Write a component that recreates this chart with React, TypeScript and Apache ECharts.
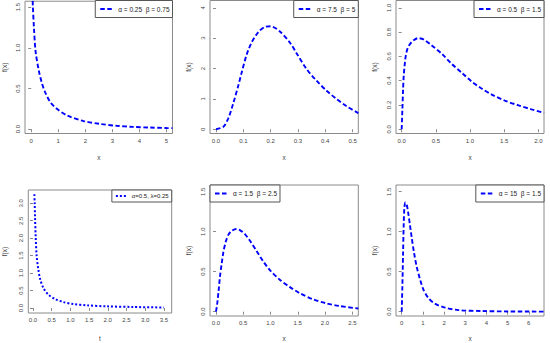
import { useEffect, useRef } from "react";
import * as echarts from "echarts";

// ---- data ----
const P1_X = [0.04, 0.06, 0.1, 0.16, 0.28, 0.4, 0.52, 0.71, 0.95, 1.32, 1.93, 2.54, 3.15, 3.76, 4.4, 5.0, 5.22];
const P1_Y = [1.75, 1.52, 1.25, 0.96, 0.72, 0.56, 0.45, 0.33, 0.25, 0.17, 0.1, 0.065, 0.042, 0.028, 0.02, 0.014, 0.013];

const P2_X = [0, 0.027, 0.045, 0.063, 0.082, 0.094, 0.112, 0.13, 0.155, 0.179, 0.2, 0.234, 0.271, 0.295, 0.332, 0.368, 0.405, 0.441, 0.478, 0.521];
const P2_Y = [0, 0.08, 0.36, 0.85, 1.45, 1.87, 2.45, 2.85, 3.2, 3.37, 3.39, 3.22, 2.85, 2.5, 1.98, 1.6, 1.27, 1.0, 0.76, 0.53];

const P3_X = [0, 0.01, 0.02, 0.03, 0.044, 0.059, 0.083, 0.12, 0.17, 0.24, 0.32, 0.44, 0.59, 0.73, 0.88, 1.02, 1.17, 1.32, 1.51, 1.71, 1.9, 2.083];
const P3_Y = [0, 0.156, 0.32, 0.44, 0.53, 0.6, 0.66, 0.7, 0.73, 0.75, 0.74, 0.69, 0.62, 0.54, 0.465, 0.395, 0.335, 0.285, 0.235, 0.197, 0.164, 0.135];

const P4_X = [0.036, 0.045, 0.054, 0.071, 0.098, 0.143, 0.19, 0.28, 0.41, 0.59, 0.81, 1.08, 1.44, 1.97, 2.69, 3.5];
const P4_Y = [3.26, 3.0, 2.6, 2.05, 1.48, 1.1, 0.83, 0.57, 0.38, 0.26, 0.17, 0.114, 0.076, 0.048, 0.029, 0.015];

const P5_X = [0, 0.024, 0.049, 0.073, 0.104, 0.134, 0.177, 0.226, 0.287, 0.378, 0.439, 0.53, 0.62, 0.744, 0.866, 0.988, 1.17, 1.35, 1.54, 1.78, 2.02, 2.27, 2.61];
const P5_Y = [0, 0.11, 0.27, 0.44, 0.6, 0.74, 0.87, 0.96, 1.01, 1.035, 1.02, 0.97, 0.89, 0.76, 0.63, 0.52, 0.4, 0.31, 0.23, 0.155, 0.105, 0.07, 0.04];

const P6_X = [0, 0.031, 0.063, 0.094, 0.126, 0.173, 0.236, 0.315, 0.39, 0.47, 0.58, 0.71, 0.87, 1.02, 1.26, 1.57, 2.05, 2.68, 3.78, 5.0, 6.72];
const P6_Y = [0, 0.32, 0.72, 1.09, 1.3, 1.365, 1.34, 1.22, 1.08, 0.93, 0.74, 0.56, 0.4, 0.28, 0.17, 0.1, 0.05, 0.02, 0.008, 0.003, 0.001];

const LEGEND_NAMES = [
  "α = 0.25  β = 0.75",
  "α = 7.5  β = 5",
  "α = 0.5  β = 1.5",
  "α=0.5, λ=0.25",
  "α = 1.5  β = 2.5",
  "α = 15  β = 1.5",
];
const X_TITLES = ["x", "x", "x", "t", "x", "x"];

const X_TICKS = [
  [0, 1, 2, 3, 4, 5],
  [0, 0.1, 0.2, 0.3, 0.4, 0.5],
  [0, 0.5, 1, 1.5, 2],
  [0, 0.5, 1, 1.5, 2, 2.5, 3, 3.5],
  [0, 0.5, 1, 1.5, 2, 2.5],
  [0, 1, 2, 3, 4, 5, 6],
];
const X_DEC = [0, 1, 1, 1, 1, 0];
const Y_TICKS = [
  [0, 0.5, 1, 1.5],
  [0, 1, 2, 3, 4],
  [0, 0.2, 0.4, 0.6, 0.8, 1.0],
  [0, 0.5, 1, 1.5, 2, 2.5, 3],
  [0, 0.5, 1, 1.5],
  [0, 0.5, 1, 1.5],
];
const Y_DEC = [1, 0, 1, 1, 1, 1];

const X_RANGE = [
  [-0.23, 5.22],
  [-0.022, 0.521],
  [-0.083, 2.083],
  [-0.126, 3.71],
  [-0.11, 2.61],
  [-0.27, 6.72],
];
const Y_RANGE = [
  [-0.053, 1.573],
  [-0.14, 4.24],
  [-0.035, 1.06],
  [-0.143, 3.38],
  [-0.054, 1.584],
  [-0.054, 1.584],
];

const XS = [P1_X, P2_X, P3_X, P4_X, P5_X, P6_X];
const YS = [P1_Y, P2_Y, P3_Y, P4_Y, P5_Y, P6_Y];

// layout (pixels)
const BOXES = [
  { left: 24.5, top: 0.5, width: 148, height: 133 },
  { left: 210, top: 0.5, width: 148.3, height: 133 },
  { left: 396, top: 0.5, width: 148, height: 133 },
  { left: 28.3, top: 190, width: 143.4, height: 123.3 },
  { left: 210, top: 185, width: 148.3, height: 131.7 },
  { left: 396, top: 185, width: 148, height: 131.7 },
];
const LEGEND_POS: any[] = [
  { right: 550 - 172.5, top: 0.5 },
  { right: 550 - 358.3, top: 0.5 },
  { right: 550 - 544, top: 0.5 },
  { right: 550 - 171.7, top: 190 },
  { left: 210, top: 185 },
  { right: 550 - 544, top: 185 },
];
const X_NAME_GAP = [20, 20, 20, 22, 19, 19];
const Y_NAME_GAP = [17, 18, 18, 20, 18, 18];

const FONT = "Liberation Sans, Arial, sans-serif";
const BOX_COLOR = "#8a8a8a";
const TEXT_COLOR = "#444";

export default function App() {
  const ref = useRef<HTMLDivElement>(null);
  useEffect(() => {
    if (!ref.current) return;
    const chart = echarts.init(ref.current, undefined, { renderer: "svg" });
    const grid = BOXES.map((b) => ({
      ...b,
      show: true,
      borderColor: BOX_COLOR,
      borderWidth: 1,
      backgroundColor: "transparent",
      containLabel: false,
    }));
    const xAxis = BOXES.map((_, i) => ({
      type: "value",
      gridIndex: i,
      min: X_RANGE[i][0],
      max: X_RANGE[i][1],
      axisLine: { show: false },
      splitLine: { show: false },
      axisTick: { show: true, customValues: X_TICKS[i], length: 3, lineStyle: { color: BOX_COLOR } },
      axisLabel: {
        customValues: X_TICKS[i],
        formatter: (v: number) => v.toFixed(X_DEC[i]),
        fontSize: 6,
        margin: 4,
        color: TEXT_COLOR,
        fontFamily: FONT,
      },
      name: X_TITLES[i],
      nameLocation: "middle",
      nameGap: X_NAME_GAP[i],
      nameTextStyle: { fontSize: 6.5, color: TEXT_COLOR, fontFamily: FONT },
    }));
    const yAxis = BOXES.map((_, i) => ({
      type: "value",
      gridIndex: i,
      min: Y_RANGE[i][0],
      max: Y_RANGE[i][1],
      axisLine: { show: false },
      splitLine: { show: false },
      axisTick: { show: true, customValues: Y_TICKS[i], length: 3, lineStyle: { color: BOX_COLOR } },
      axisLabel: {
        customValues: Y_TICKS[i],
        formatter: (v: number) => v.toFixed(Y_DEC[i]),
        fontSize: 6,
        margin: 4,
        rotate: 90,
        color: TEXT_COLOR,
        fontFamily: FONT,
      },
      name: "f(x)",
      nameLocation: "middle",
      nameGap: Y_NAME_GAP[i],
      nameTextStyle: { fontSize: 6.5, color: TEXT_COLOR, fontFamily: FONT },
    }));
    const series = BOXES.map((_, i) => ({
      type: "line",
      name: LEGEND_NAMES[i],
      xAxisIndex: i,
      yAxisIndex: i,
      data: XS[i].map((x, k) => [x, YS[i][k]]),
      symbol: "none",
      showSymbol: false,
      smooth: 0.3,
      clip: true,
      lineStyle: {
        color: "#0000ff",
        width: i === 3 ? 2 : 1.9,
        type: i === 3 ? [2, 2] : [4.5, 2.5],
        cap: "butt",
      },
      itemStyle: { color: "#0000ff" },
    }));
    const legend = BOXES.map((_, i) => ({
      ...LEGEND_POS[i],
      data: [LEGEND_NAMES[i]],
      orient: "horizontal",
      borderColor: "#555",
      borderWidth: 1,
      backgroundColor: "#fff",
      padding: i === 3 ? [3, 3, 3, 3] : [5, 3, 5, 4],
      itemWidth: i === 3 ? 11 : 13,
      itemHeight: 5,
      itemGap: 4,
      selectedMode: false,
      itemStyle: { opacity: 0, borderWidth: 0 },
      textStyle: { fontSize: i === 3 ? 6 : 6.5, color: "#222", fontFamily: FONT },
    }));
    chart.setOption({
      animation: false,
      backgroundColor: "#ffffff",
      grid,
      xAxis,
      yAxis,
      series,
      legend,
    });
    return () => chart.dispose();
  }, []);
  return (
    <div
      ref={ref}
      style={{ position: "fixed", left: 0, top: 0, width: 550, height: 343, background: "#fff" }}
    />
  );
}
